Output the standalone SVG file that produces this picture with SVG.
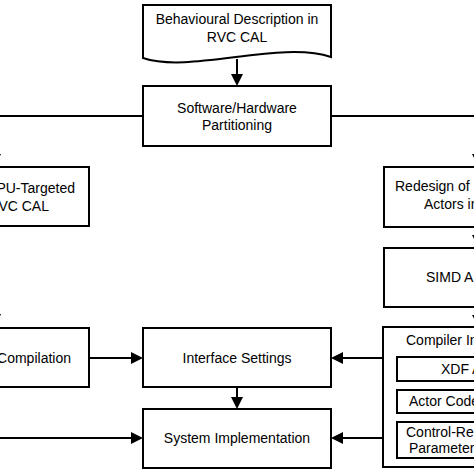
<svg xmlns="http://www.w3.org/2000/svg" width="474" height="474" viewBox="0 0 474 474">
<style>
.box{fill:#fff;stroke:#000;stroke-width:2}
.ln{fill:none;stroke:#000;stroke-width:2}
.ah{fill:#000}
text{font-family:"Liberation Sans",Arial,sans-serif;font-size:14px;fill:#000}
.c{text-anchor:middle}
.e{text-anchor:end}
</style>
<rect width="474" height="474" fill="#fff"/>
<g id="connectors">
<line class="ln" x1="237" y1="59" x2="237" y2="76"/>
<polygon class="ah" points="231,74 243,74 237,86"/>
<line class="ln" x1="0" y1="116" x2="143" y2="116"/>
<line class="ln" x1="331" y1="116" x2="474" y2="116"/>
<polygon class="ah" points="-11,154 1,154 -5,166"/>
<polygon class="ah" points="-11,314 1,314 -5,327"/>
<polygon class="ah" points="472,154 484,154 478,166"/>
<polygon class="ah" points="472,235 484,235 478,247"/>
<polygon class="ah" points="472,315 484,315 478,326"/>
<line class="ln" x1="89" y1="358" x2="133" y2="358"/>
<polygon class="ah" points="131,352 131,364 143,358"/>
<line class="ln" x1="0" y1="438" x2="133" y2="438"/>
<polygon class="ah" points="131,432 131,444 143,438"/>
<line class="ln" x1="383" y1="358" x2="341" y2="358"/>
<polygon class="ah" points="343,352 343,364 331,358"/>
<line class="ln" x1="383" y1="438" x2="341" y2="438"/>
<polygon class="ah" points="343,432 343,444 331,438"/>
<line class="ln" x1="237" y1="387" x2="237" y2="399"/>
<polygon class="ah" points="231,397 243,397 237,409"/>
</g>
<g id="behavioural">
<path class="box" d="M143,5 H331 V57 C280,40 190,74 143,58 Z"/>
<text class="c" x="237" y="24">Behavioural Description in</text>
<text class="c" x="237" y="42">RVC CAL</text>
</g>
<g id="partitioning">
<rect class="box" x="143" y="86" width="188" height="60"/>
<text class="c" x="237" y="113">Software/Hardware</text>
<text class="c" x="237" y="130">Partitioning</text>
</g>
<g id="gpu">
<rect class="box" x="-100" y="167" width="189" height="59"/>
<text class="e" x="75" y="193">PU-Targeted</text>
<text class="e" x="49" y="211">RVC CAL</text>
</g>
<g id="redesign">
<rect class="box" x="384" y="167" width="120" height="60"/>
<text x="395" y="191">Redesign of R</text>
<text x="424" y="209">Actors in</text>
</g>
<g id="simd">
<rect class="box" x="384" y="248" width="120" height="59"/>
<text x="426" y="282">SIMD Ap</text>
</g>
<g id="compilation">
<rect class="box" x="-100" y="328" width="189" height="59"/>
<text class="e" x="71" y="363">Compilation</text>
</g>
<g id="interface">
<rect class="box" x="143" y="328" width="188" height="59"/>
<text class="c" x="237" y="363">Interface Settings</text>
</g>
<g id="system">
<rect class="box" x="143" y="409" width="188" height="59"/>
<text class="c" x="237" y="443">System Implementation</text>
</g>
<g id="compiler">
<rect class="box" x="383" y="327" width="120" height="140"/>
<text x="406" y="345">Compiler In</text>
<g id="xdf">
<rect class="box" x="397" y="357" width="100" height="24"/>
<text x="441" y="374">XDF A</text>
</g>
<g id="actorcode">
<rect class="box" x="397" y="390" width="100" height="23"/>
<text x="409" y="406">Actor Code</text>
</g>
<g id="control">
<rect class="box" x="397" y="422" width="100" height="36"/>
<text x="406" y="437">Control-Re</text>
<text x="409" y="453">Parameter</text>
</g>
</g>
</svg>
